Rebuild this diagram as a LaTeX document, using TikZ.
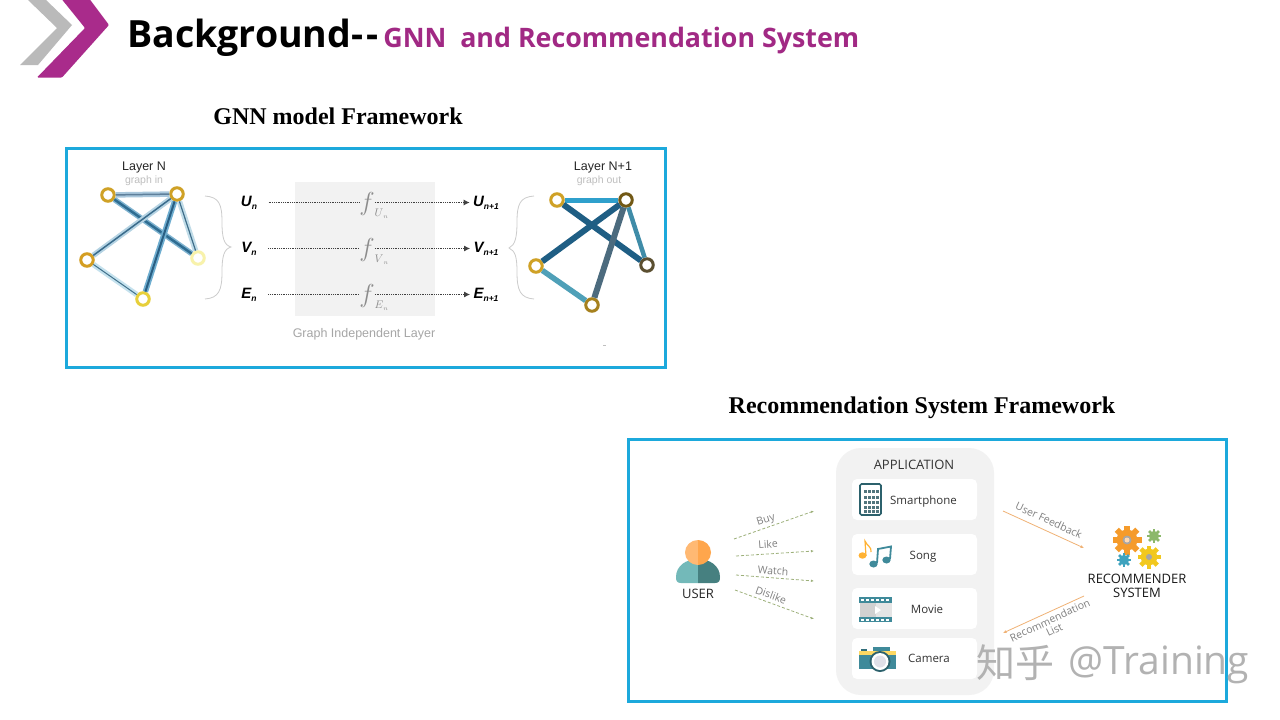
\RequirePackage{fix-cm}
\documentclass[tikz,border=0pt]{standalone}
\usepackage{fontspec}
\setmainfont{Open Sans}
\newfontfamily\timesfont{Liberation Serif}
\newfontfamily\arialfont{Liberation Sans}
\newfontfamily\cjk{Noto Sans CJK SC}
\usetikzlibrary{arrows.meta}
\newcommand{\fsz}[1]{\fontsize{#1}{#1}\selectfont}
\newcommand{\sublabel}[2]{{\arialfont\fsz{15}\bfseries\itshape #1\raisebox{-3pt}{\fsz{8.5}#2}}}
\newcommand{\funclabel}[1]{$f$\rlap{\raisebox{-6pt}{\fsz{11}$#1$\raisebox{-2pt}{\fsz{6}$n$}}}}
\newcommand{\gearicon}[4]{%
	\fill[#4] (#1,#2) circle (#3*.72);
	\foreach \a in {0,45,90,135}
		\fill[#4,rotate around={\a:(#1,#2)}] (#1-#3*.2,#2-#3) rectangle (#1+#3*.2,#2+#3);
}
\definecolor{framecol}{HTML}{1CA9DC}
\definecolor{plum}{HTML}{A92B8B}
\definecolor{tealicon}{HTML}{3F8A9A}
\definecolor{dashgreen}{HTML}{9DB07A}
\definecolor{gearorange}{HTML}{F59B2B}
\definecolor{gearyellow}{HTML}{F2C81E}
\definecolor{geargreen}{HTML}{8CB86B}
\definecolor{gearblue}{HTML}{3FA3BE}
\definecolor{goldring}{HTML}{CFA126}
\begin{document}
\begin{tikzpicture}[x=1pt,y=-1pt]
		\tikzstyle{frame}=[draw=framecol,line width=3pt,fill=white]
		\tikzstyle{heading}=[font={\timesfont\fsz{24}\bfseries},text height=16pt,text depth=5pt]
		\tikzstyle{ring}=[circle,minimum size=12.5pt,inner sep=0pt,line width=3pt,fill=white]
		\tikzstyle{graphname}=[font={\arialfont\fsz{12.5}},text=black!85]
		\tikzstyle{graphsub}=[font={\arialfont\fsz{10.5}},text=black!25]
		\tikzstyle{func}=[text=black!45,font=\fsz{26},inner sep=0pt,text height=20pt,text depth=5pt]
		\tikzstyle{flow}=[densely dotted,line width=.8pt,black!75]
		\tikzstyle{brace}=[draw=black!20,line width=.8pt]
		\tikzstyle{card}=[fill=white,rounded corners=5pt]
		\tikzstyle{apptext}=[font=\fsz{11.5},text=black!80,text height=9pt,text depth=3pt]
		\tikzstyle{action}=[densely dashed,draw=dashgreen,line width=.8pt,-{Latex[length=3pt,width=2.5pt]}]
		\tikzstyle{actiontext}=[font=\fsz{10.5},text=black!50]
		\tikzstyle{feedback}=[draw=orange!60!brown!60,line width=.8pt,-{Latex[length=3.5pt,width=3pt]}]
		\useasboundingbox (0,0) rectangle (1280,720);
		\fill[white] (0,0) rectangle (1280,720);
		% logo
		\fill[black!27] (28,0) -- (46,0) -- (72,25) -- (38,65) -- (20,65) -- (57,28) -- cycle;
		\fill[plum,rounded corners=1pt] (60,-3) -- (88,-3) -- (109,25) -- (62,77.5) -- (37,77.5) -- (85,28) -- cycle;
		\node[anchor=base west,inner sep=0pt] (title) at (127,47) {\fsz{37.5}\bfseries Background-\kern3pt-\kern5pt{\fsz{26.8}\color{plum!95!black}GNN\ \ and Recommendation System}};
		% gauche
		\node[heading] (gnntitle) at (338,119) {GNN model Framework};
		\draw[frame] (66,148) rectangle (665,367);
		\fill[black!5] (295,182) rectangle (435,316);
		\node[graphname] (layerin) at (144,167.5) {Layer N};
		\node[graphsub] (graphin) at (144,181) {graph in};
		\node[ring,draw=goldring] (ia) at (108,195) {};
		\node[ring,draw=goldring] (ib) at (177,194) {};
		\node[ring,draw=goldring!90!orange] (ic) at (87,260) {};
		\node[ring,draw=goldring!60!yellow!85] (id) at (143,299) {};
		\node[ring,draw=goldring!40!yellow!35] (ie) at (198,258) {};
		\foreach \p/\q/\h/\c/\w in {ia/ib/A9C7DC/5E7F9A/1.5,ia/ie/7FB3D0/2F6D92/2.5,ib/ic/B5D3E3/3A6C8C/1.5,ib/id/6FAED0/2A5F83/2,ib/ie/C0DCE8/3F6E8A/1.2,ic/id/C5E2EE/40708A/1}{
			\definecolor{halocol}{HTML}{\h}
			\definecolor{corecol}{HTML}{\c}
			\draw[halocol,line width=5.5pt] (\p) -- (\q);
			\draw[corecol,line width=\w pt] (\p) -- (\q);
		}
		\draw[brace] (205,196) .. controls (219,197) and (222,204) .. (222,222) .. controls (222,238) and (224,245) .. (231,247) .. controls (224,249) and (222,256) .. (222,272) .. controls (222,290) and (219,298) .. (205,299);
		\node (un) at (249,202.5) {\sublabel{U}{n}};
		\node (vn) at (249,248.5) {\sublabel{V}{n}};
		\node (en) at (249,294.5) {\sublabel{E}{n}};
		\node[func] (fu) at (367,202.5) {\funclabel{U}};
		\node[func] (fv) at (367,248.5) {\funclabel{V}};
		\node[func] (fe) at (367,294.5) {\funclabel{E}};
		\node (un1) at (486,202.5) {\sublabel{U}{n+1}};
		\node (vn1) at (486,248.5) {\sublabel{V}{n+1}};
		\node (en1) at (486,294.5) {\sublabel{E}{n+1}};
		\foreach \a/\b/\c in {un/fu/un1,vn/fv/vn1,en/fe/en1}{
			\draw[flow,shorten <=8pt] (\a) -- (\b);
			\draw[flow,-{Latex[length=6pt,width=6pt]}] (\b) -- (\c);
		}
		\node[font={\arialfont\fsz{12.5}},text=black!35] (indep) at (364,334.5) {Graph Independent Layer};
		\draw[brace] (534,196) .. controls (520,197) and (517,204) .. (517,222) .. controls (517,238) and (515,245) .. (509,248) .. controls (515,251) and (517,256) .. (517,272) .. controls (517,290) and (520,298) .. (534,299);
		\node[graphname] (layerout) at (603,167) {Layer N+1};
		\node[graphsub] (graphout) at (599,181) {graph out};
		\node[ring,draw=goldring] (oa) at (557,200) {};
		\node[ring,draw=goldring!55!black] (ob) at (626,200) {};
		\node[ring,draw=goldring] (oc) at (536,266) {};
		\node[ring,draw=goldring!80!black] (od) at (592,305) {};
		\node[ring,draw=goldring!30!black!85] (oe) at (647,265) {};
		\foreach \p/\q/\c/\w in {oa/ob/2FA0CC/5,oa/oe/1F5E84/6,ob/oc/1F5E84/6,ob/od/4C6B7E/6,ob/oe/3F8CA8/4.5,oc/od/4FA0B8/5.5}{
			\definecolor{edgecol}{HTML}{\c}
			\draw[edgecol,line width=\w pt] (\p) -- (\q);
		}
		\draw[black!25,line width=.6pt] (603,345.5) -- (606,345.5);
		% droite
		\node[heading] (rectitle) at (922,408) {Recommendation System Framework};
		\draw[frame] (628,439) rectangle (1226.5,701);
		\fill[black!5,rounded corners=25pt] (836,448) rectangle (994,695);
		\fill[card] (852,479) rectangle (977,520);
		\fill[card] (852,534) rectangle (977,575);
		\fill[card] (852,588) rectangle (977,629);
		\fill[card] (852,638) rectangle (977,679);
		\node[font=\fsz{13},text=black!80] (application) at (914,464.5) {APPLICATION};
		\node[apptext] (smartphone) at (923.5,501) {Smartphone};
		\node[apptext] (song) at (923,556) {Song};
		\node[apptext] (movie) at (927,610.5) {Movie};
		\node[apptext] (camera) at (929,659.5) {Camera};
		% phone
		\draw[draw=tealicon!70!black,line width=1.6pt,rounded corners=1.5pt,fill=white] (860,484) rectangle (881,515);
		\foreach \x in {864,868,872,876}
			\foreach \y in {490,496,501,506,510}
				\fill[tealicon!60!black!80] (\x,\y) rectangle (\x+2.6,\y+2.6);
		% notes
		\draw[orange!75!yellow!80,line width=1.2pt] (866,556) -- (865,541) .. controls (867,546) and (872,547) .. (871,552);
		\fill[orange!75!yellow!80] (862.5,555.5) ellipse (4 and 3.2);
		\draw[tealicon,line width=1.8pt] (877,563) -- (878,549) -- (891,546.5) -- (890,559);
		\fill[tealicon] (873.5,564) ellipse (4.2 and 3.5);
		\fill[tealicon] (886.5,560) ellipse (4.2 and 3.5);
		% film
		\fill[black!18] (860,603) rectangle (876,617);
		\fill[black!10] (876,603) rectangle (892,617);
		\fill[white] (875,606) -- (881,610) -- (875,614) -- cycle;
		\fill[tealicon] (859,597) rectangle (892,603);
		\fill[tealicon] (859,617) rectangle (892,622);
		\foreach \x in {861,866,871,876,881,886}{
			\fill[white] (\x,599) rectangle (\x+3,601);
			\fill[white] (\x,619) rectangle (\x+3,620.5);
		}
		% camera
		\fill[tealicon] (873,647) rectangle (890,652);
		\fill[tealicon] (859,652) rectangle (896,669);
		\fill[yellow!55!orange!60] (859,651) rectangle (896,655);
		\fill[tealicon!80!black] (861,648.5) rectangle (867,651);
		\fill[tealicon!70!black] (880,661.5) circle (10.5);
		\fill[white] (880,661.5) circle (8.5);
		\fill[blue!25!black!12] (880,661.5) circle (6);
		% user
		\fill[teal!55!white] (698,583) -- (681,583) .. controls (677,583) and (676,581) .. (676,577) .. controls (676,566) and (686,559) .. (698,559) -- cycle;
		\fill[teal!45!gray] (698,583) -- (715,583) .. controls (719,583) and (720,581) .. (720,577) .. controls (720,566) and (710,559) .. (698,559) -- cycle;
		\fill[orange!55!white] (698,565) arc (90:270:13 and 12.5) -- cycle;
		\fill[orange!70!white] (698,565) arc (90:-90:13 and 12.5) -- cycle;
		\node[font=\fsz{13},text=black!85] (user) at (698,593.5) {USER};
		% actions
		\coordinate (buya) at (734,539);
		\coordinate (buyb) at (814,511);
		\coordinate (likea) at (736,556);
		\coordinate (likeb) at (814,551);
		\coordinate (watcha) at (736,575);
		\coordinate (watchb) at (814,581);
		\coordinate (dislikea) at (735,590);
		\coordinate (dislikeb) at (814,619);
		\draw[action] (buya) -- (buyb);
		\draw[action] (likea) -- (likeb);
		\draw[action] (watcha) -- (watchb);
		\draw[action] (dislikea) -- (dislikeb);
		\node[actiontext,rotate=18] (buy) at (766,520) {Buy};
		\node[actiontext,rotate=4] (like) at (768,544) {Like};
		\node[actiontext,rotate=-4] (watch) at (773,570.5) {Watch};
		\node[actiontext,rotate=-20] (dislike) at (771,595) {Dislike};
		% gears
		\gearicon{1127}{540}{14.5}{gearorange}
		\fill[black!35] (1127,540) circle (4.5);
		\fill[white!70!orange] (1127,540) circle (2.5);
		\gearicon{1154}{536}{7}{geargreen}
		\gearicon{1149}{557}{11.5}{gearyellow}
		\fill[black!35] (1149,557) circle (3);
		\gearicon{1124}{560}{7}{gearblue}
		\node[font=\fsz{13},text=black!90,align=center,inner sep=0pt] (recsys) at (1137,586) {RECOMMENDER\\[1.5pt]SYSTEM};
		\coordinate (feedbacka) at (1003,511);
		\coordinate (feedbackb) at (1084,548);
		\coordinate (lista) at (1084,596);
		\coordinate (listb) at (1003,633);
		\draw[feedback] (feedbacka) -- (feedbackb);
		\draw[feedback] (lista) -- (listb);
		\node[actiontext,rotate=-25] (userfb) at (1049,520.5) {User Feedback};
		\node[actiontext,rotate=25,align=center] (reclist) at (1052,625) {Recommendation\\List};
		% watermark
		\node[font={\cjk\fsz{39}},text=black!30] (markzh) at (1015,663) {知乎};
		\node[font=\fsz{39},text=black!30] (marken) at (1159,665) {@Training};
	\end{tikzpicture}
\end{document}
